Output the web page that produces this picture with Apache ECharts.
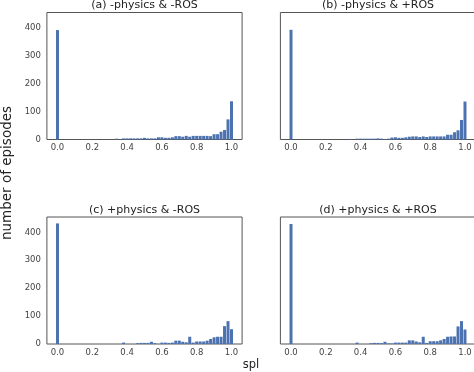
<!DOCTYPE html>
<html>
<head>
<meta charset="utf-8">
<script src="https://cdn.jsdelivr.net/npm/echarts@6/dist/echarts.min.js"></script>
<style>
html,body{margin:0;padding:0;background:#fff;}
#chart{width:474px;height:372px;}
</style>
</head>
<body>
<div id="chart"></div>
<script>
const binCenters = [0.00,0.02,0.04,0.06,0.08,0.10,0.12,0.14,0.16,0.18,
  0.20,0.22,0.24,0.26,0.28,0.30,0.32,0.34,0.36,0.38,
  0.40,0.42,0.44,0.46,0.48,0.50,0.52,0.54,0.56,0.58,
  0.60,0.62,0.64,0.66,0.68,0.70,0.72,0.74,0.76,0.78,
  0.80,0.82,0.84,0.86,0.88,0.90,0.92,0.94,0.96,0.98,1.00];
const panelA = [392, 0,0,0,0,0,0,0,0,0,0,0,0,0,0,0,0, 3, 0,
  4,4,4,4,4,4, 6, 4,4,4, 8,8,6,6,8, 12,12,10,13,10,13, 13,13,13,13,12, 19,19,28,34,72,137];
const panelB = [393, 0,0,0,0,0,0,0,0,0,0,0,0,0,0,0,0, 2, 0,
  3,3,3,3,3,3, 4, 3,2,3, 7,8,6,6,8, 10,11,11,9,11,9, 11,11,11,11,11, 17,17,26,33,70,136];
const panelC = [432, 0,0,0,0,0,0,0,0,0,0,0,0,0,0,0,0,0,0, 5, 0,0,0,
  3,4,4,4,8,3,0, 5,5,4,5, 12,12,8,6,26,5, 9,9,9,12,18, 24,26,26,64,82,53];
const panelD = [430, 0,0,0,0,0,0,0,0,0,0,0,0,0,0,0,0,0,0, 5, 0,0,0,
  3,4,4,3,8,2,2, 5,5,5,5, 13,13,9,6,26,4, 10,10,10,13,18, 26,27,27,63,82,52];
const xTicks = [0.0,0.2,0.4,0.6,0.8,1.0];
const yTicks = [0,100,200,300,400];
const panelTitles = ['(a) -physics & -ROS','(b) -physics & +ROS','(c) +physics & -ROS','(d) +physics & +ROS'];
const xTitle = 'spl';
const yTitle = 'number of episodes';

const FONT = 'DejaVu Sans';
const panels = [panelA, panelB, panelC, panelD];
const gridPos = [
  {left:46.9, top:12.5},
  {left:280.4, top:12.5},
  {left:46.9, top:217},
  {left:280.4, top:217}
];
const GW = 195.2, GH = 127;

const chart = echarts.init(document.getElementById('chart'), null, {renderer:'canvas'});
const option = {
  animation:false,
  backgroundColor:'#ffffff',
  grid: gridPos.map(p => ({left:p.left, top:p.top, width:GW, height:GH, show:true,
    borderColor:'#555', borderWidth:1, backgroundColor:'transparent', outerBoundsMode:'none', containLabel:false})),
  xAxis: gridPos.map((p,i) => ({
    gridIndex:i, type:'value', min:-0.061, max:1.061,
    axisLine:{show:false}, axisTick:{show:false}, splitLine:{show:false},
    axisLabel:{customValues:xTicks, formatter:v => Number(v).toFixed(1), fontSize:8.5, fontFamily:FONT, color:'#444', margin:4}
  })),
  yAxis: gridPos.map((p,i) => ({
    gridIndex:i, type:'value', min:0, max:455,
    axisLine:{show:false}, axisTick:{show:false}, splitLine:{show:false},
    axisLabel:{show:(i%2===0), customValues:yTicks, fontSize:8.5, fontFamily:FONT, color:'#444', margin:6}
  })),
  series: panels.map((vals,i) => ({
    type:'bar', xAxisIndex:i, yAxisIndex:i, barWidth:3,
    itemStyle:{color:'#4c72b0'},
    data: binCenters.map((x,k) => [x, vals[k]])
  })),
  graphic: [
    ...panelTitles.map((t,i) => ({
      type:'text', x: gridPos[i].left + GW/2, y: gridPos[i].top - 7.3,
      style:{text:t, fontSize:11, fontFamily:FONT, fill:'#222', align:'center', verticalAlign:'middle'}
    })),
    {type:'text', x:251, y:365, style:{text:xTitle, fontSize:11.5, fontFamily:FONT, fill:'#222', align:'center', verticalAlign:'middle'}},
    {type:'text', x:7.5, y:173, rotation:Math.PI/2, style:{text:yTitle, fontSize:13.5, fontFamily:FONT, fill:'#222', align:'center', verticalAlign:'middle'}}
  ]
};
chart.setOption(option);
</script>
</body>
</html>
